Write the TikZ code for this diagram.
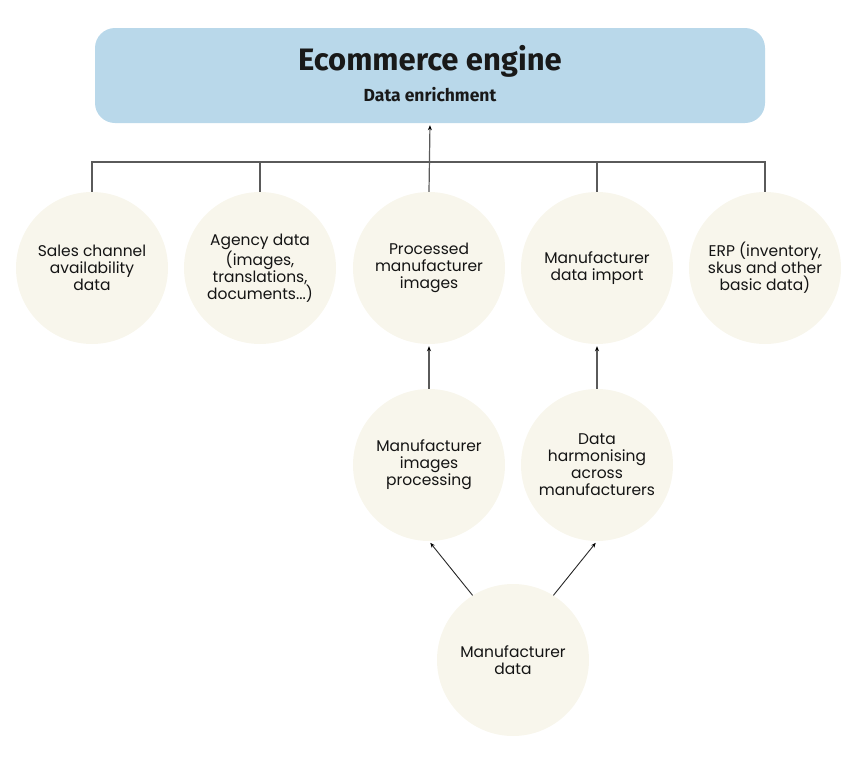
\documentclass[tikz,border=0pt]{standalone}
\usepackage{fontspec}
\setmainfont{Poppins}
\newfontfamily\titlefont{Fira Sans}
\usetikzlibrary{arrows.meta}
\definecolor{boxblue}{HTML}{B9D8EA}
\definecolor{circfill}{HTML}{F8F6EC}
\definecolor{linegray}{HTML}{5A5A5A}
\begin{document}
\begin{tikzpicture}[x=1pt,y=-1pt,
  circ/.style={circle,fill=circfill,minimum size=152pt,inner sep=0pt,align=center,
    font=\fontsize{15.5}{17}\selectfont,text=black!92},
  conn/.style={draw=linegray,line width=1.2pt},
  arr/.style={conn,-{Stealth[length=5pt,width=4pt,black]},shorten >=2pt},
  diag/.style={draw=black!85,line width=0.9pt,-{Stealth[length=5pt,width=4pt,black]},shorten >=2pt}]
\useasboundingbox (0,0) rectangle (860,764);
\node[fill=boxblue,rounded corners=20pt,minimum width=670pt,minimum height=95pt,inner sep=0pt] (eng) at (430,75.5) {};
\node[font=\titlefont\bfseries\fontsize{31}{34}\selectfont,text=black!90,anchor=base] (title) at (430,70) {Ecommerce engine};
\node[font=\titlefont\bfseries\fontsize{17.5}{20}\selectfont,text=black!90,anchor=base] (sub) at (430,101) {Data enrichment};
\node[circ] (c1) at (92,268) {Sales channel\\availability\\data};
\node[circ] (c2) at (260,268) {Agency data\\(images,\\translations,\\documents...)};
\node[circ] (c3) at (429,268) {Processed\\manufacturer\\images};
\node[circ] (c4) at (597,268) {Manufacturer\\data import};
\node[circ] (c5) at (765,268) {ERP (inventory,\\skus and other\\basic data)};
\node[circ] (d1) at (429,465) {Manufacturer\\images\\processing};
\node[circ] (d2) at (597,465) {Data\\harmonising\\across\\manufacturers};
\node[circ] (m) at (513,660) {Manufacturer\\data};
\coordinate (bus) at (0,162);
\draw[conn] (c1.north) -- (c1.north |- bus) -- (c5.north |- bus) -- (c5.north);
\draw[conn] (c2.north) -- (c2.north |- bus);
\draw[conn] (c4.north) -- (c4.north |- bus);
\draw[arr] (c3.north) -- (eng.south);
\draw[arr] (d1.north) -- (c3.south);
\draw[arr] (d2.north) -- (c4.south);
\draw[diag] (m.122) -- (d1.south);
\draw[diag] (m.58) -- (d2.south);
\end{tikzpicture}
\end{document}
